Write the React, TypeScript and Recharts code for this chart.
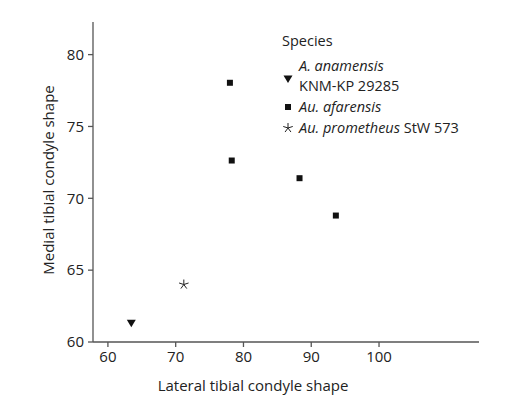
import { Label, Scatter, ScatterChart, XAxis, YAxis } from 'recharts';

const anamensisLateral = [63.45];
const anamensisMedial = [61.3];
const afarensisLateral = [78.0, 78.27, 88.27, 93.63];
const afarensisMedial = [78.04, 72.63, 71.4, 68.8];
const prometheusLateral = [71.2];
const prometheusMedial = [64.0];

const xTicks = [60, 70, 80, 90, 100];
const yTicks = [60, 65, 70, 75, 80];

const toPoints = (xs: number[], ys: number[]) => xs.map((x, i) => ({ x, y: ys[i] }));

const anamensisData = toPoints(anamensisLateral, anamensisMedial);
const afarensisData = toPoints(afarensisLateral, afarensisMedial);
const prometheusData = toPoints(prometheusLateral, prometheusMedial);

const FONT = '"Open Sans", "Noto Sans", sans-serif';
const AXIS = '#555';
const TEXT = '#222';

function Triangle({ cx, cy }: any) {
  return <path d={`M${cx - 4.5},${cy - 3.5} L${cx + 4.5},${cy - 3.5} L${cx},${cy + 4} Z`} fill="#111" />;
}

function Square({ cx, cy }: any) {
  return <rect x={cx - 3} y={cy - 3} width={6} height={6} fill="#111" />;
}

function Star({ cx, cy }: any) {
  const r = 5;
  const arms = [-90, -18, 54, 126, 198].map((a) => {
    const rad = (a * Math.PI) / 180;
    return `M${cx},${cy} L${cx + r * Math.cos(rad)},${cy + r * Math.sin(rad)}`;
  });
  return <path d={arms.join(' ')} stroke="#222" strokeWidth={1} fill="none" />;
}

function LegendBox() {
  const row = { display: 'flex', alignItems: 'center', height: 21 } as const;
  const icon = { width: 14, marginRight: 3, flexShrink: 0 } as const;
  return (
    <div
      style={{
        position: 'absolute',
        left: 282,
        top: 31,
        width: 230,
        fontFamily: FONT,
        fontSize: 14.5,
        color: TEXT,
        lineHeight: '20px',
      }}
    >
      <div style={{ marginBottom: 5 }}>Species</div>
      <div style={{ display: 'flex', alignItems: 'center' }}>
        <svg width={14} height={14} style={{ ...icon, marginTop: 6 }}>
          <Triangle cx={6} cy={7} />
        </svg>
        <div>
          <i>A. anamensis</i>
          <br />
          KNM-KP 29285
        </div>
      </div>
      <div style={row}>
        <svg width={14} height={14} style={icon}>
          <Square cx={6} cy={7} />
        </svg>
        <span>
          <i>Au. afarensis</i>
        </span>
      </div>
      <div style={row}>
        <svg width={14} height={14} style={icon}>
          <Star cx={6} cy={7} />
        </svg>
        <span>
          <i>Au. prometheus</i> StW 573
        </span>
      </div>
    </div>
  );
}

export default function App() {
  const tick = { fill: TEXT, fontSize: 15, fontFamily: FONT };
  return (
    <div style={{ position: 'absolute', left: 0, top: 0, width: 520, height: 418, background: '#fff' }}>
      <ScatterChart width={520} height={418} margin={{ top: 22, right: 41, bottom: 46, left: 43 }}>
        <XAxis
          type="number"
          dataKey="x"
          domain={[57.8, 114.75]}
          ticks={xTicks}
          tick={tick}
          stroke={AXIS}
          strokeWidth={1.3}
          tickSize={5}
          tickMargin={4}
          height={30}
          allowDataOverflow
        >
          <Label
            value="Lateral tibial condyle shape"
            position="bottom"
            offset={8}
            dx={-33}
            style={{ fill: TEXT, fontSize: 15, fontFamily: FONT }}
          />
        </XAxis>
        <YAxis
          type="number"
          dataKey="y"
          domain={[60, 82.27]}
          ticks={yTicks}
          tick={tick}
          stroke={AXIS}
          strokeWidth={1.3}
          tickSize={5}
          tickMargin={4}
          width={50}
          allowDataOverflow
        >
          <Label
            value="Medial tibial condyle shape"
            angle={-90}
            position="left"
            offset={-6}
            dy={-2}
            style={{ fill: TEXT, fontSize: 15, fontFamily: FONT, textAnchor: 'middle' }}
          />
        </YAxis>
        <Scatter data={anamensisData} shape={<Triangle />} isAnimationActive={false} />
        <Scatter data={afarensisData} shape={<Square />} isAnimationActive={false} />
        <Scatter data={prometheusData} shape={<Star />} isAnimationActive={false} />
      </ScatterChart>
      <LegendBox />
    </div>
  );
}
